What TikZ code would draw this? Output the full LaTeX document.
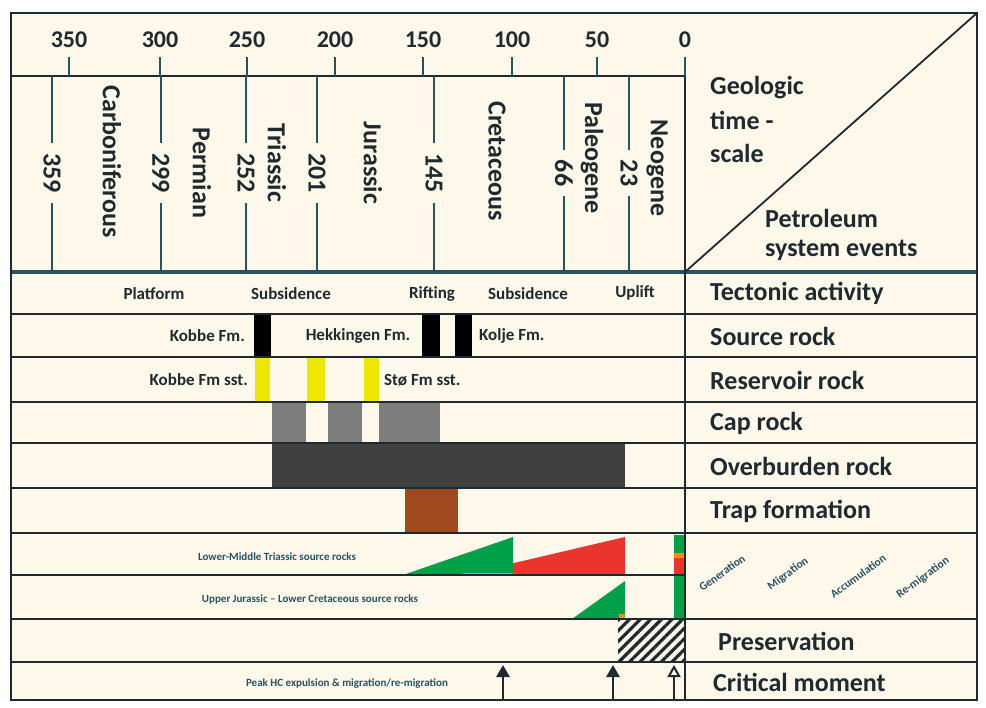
\documentclass[tikz,border=0pt]{standalone}
\usepackage{fontspec}
\setmainfont{Carlito}
\usetikzlibrary{patterns.meta,arrows.meta}
\definecolor{bgc}{RGB}{253,248,234}
\definecolor{ink}{RGB}{30,42,48}
\definecolor{tealc}{RGB}{40,82,96}
\definecolor{greenc}{RGB}{0,160,72}
\definecolor{redc}{RGB}{236,52,46}
\definecolor{yellowc}{RGB}{236,230,0}
\definecolor{capgray}{RGB}{125,125,125}
\definecolor{overgray}{RGB}{64,64,64}
\definecolor{trapc}{RGB}{160,72,30}
\definecolor{orangec}{RGB}{242,140,30}
\newcommand\fsz[1]{\fontsize{#1}{#1}\selectfont\bfseries}
\tikzset{
  rowline/.style={draw=ink,line width=2.2pt},
  perline/.style={draw=tealc,line width=2.4pt},
  ticklab/.style={text=ink,font=\fsz{24},inner sep=0pt},
  numlab/.style={text=ink,font=\fsz{26},rotate=-90,fill=bgc,inner xsep=10pt,inner ysep=1pt},
  perlab/.style={text=ink,font=\fsz{26},rotate=-90,inner sep=0pt},
  smalllab/.style={text=ink,font=\fsz{17},inner sep=0pt},
  tinylab/.style={text=tealc,font=\fsz{11},inner sep=0pt},
  diaglab/.style={text=tealc,font=\fsz{11.5},inner sep=0pt,rotate=36},
  rightlab/.style={text=ink,font=\fsz{26},inner sep=0pt,anchor=west},
  uparrow/.style={draw=ink,line width=2.8pt,-{Triangle[length=12pt,width=13pt]}},
  uparrowopen/.style={draw=ink,line width=2.8pt,-{Triangle[open,length=12pt,width=13pt,line width=2pt]}}
}
\begin{document}
\begin{tikzpicture}[x=1pt,y=-1pt]
\useasboundingbox (0,0) rectangle (986,708);
\fill[white] (0,0) rectangle (986,708);
\fill[bgc] (11,13) rectangle (977,700);

% ---- coloured blocks ----
% source rock
\fill[black] (254,314) rectangle (271,357);
\fill[black] (422,314) rectangle (440,357);
\fill[black] (455,314) rectangle (472,357);
% reservoir rock
\fill[yellowc] (255,357) rectangle (270,402);
\fill[yellowc] (307,357) rectangle (325,402);
\fill[yellowc] (364,357) rectangle (379,402);
% cap rock
\fill[capgray] (272,402) rectangle (306,443);
\fill[capgray] (328,402) rectangle (362,443);
\fill[capgray] (379,402) rectangle (440,443);
% overburden
\fill[overgray] (272,443) rectangle (625,488);
% trap
\fill[trapc] (405,488) rectangle (458,533);
% generation / migration
\fill[redc] (463,575) -- (625,537) -- (625,575) -- cycle;
\fill[greenc] (403,575) -- (513,537) -- (513,575) -- cycle;
\draw[orangec,line width=1.5pt] (463,573.5) -- (513,573.5);
\fill[greenc] (674,535) rectangle (685,619);
\fill[orangec] (674,553) rectangle (685,558);
\fill[redc] (674,558) rectangle (685,574);
\fill[greenc] (572,619) -- (625,581) -- (625,619) -- cycle;
\fill[orangec] (619,614) rectangle (625,619);
% preservation hatch
\path[pattern={Lines[angle=45,distance=7.5pt,line width=3.2pt]},pattern color=ink] (618,619) rectangle (685,662);

% ---- time axis ----
\draw[rowline] (11,76) -- (685,76);
\foreach \x/\t in {69/350,160/300,247/250,335/200,423/150,512/100,597/50,685/0}{
  \draw[perline,line width=2.2pt] (\x,57) -- (\x,76);
  \node[ticklab] (t\t) at (\x,40) {\t};
}
\foreach \x/\t in {52/359,161/299,246/252,317/201,434/145,564/66,629/23}{
  \draw[perline] (\x,76) -- (\x,272);
  \node[numlab] (n\t) at (\x,173) {\t};
}
\node[perlab] (pCarb) at (112,162) {Carboniferous};
\node[perlab] (pPerm) at (202,173) {Permian};
\node[perlab] (pTri) at (277,163) {Triassic};
\node[perlab] (pJur) at (373,163) {Jurassic};
\node[perlab] (pCret) at (497,161) {Cretaceous};
\node[perlab] (pPal) at (592,158) {Paleogene};
\node[perlab] (pNeo) at (657,168) {Neogene};

% ---- table lines ----
\foreach \y in {314,357,402,443,488,533,619,662}{
  \draw[rowline] (11,\y) -- (977,\y);
}
\draw[rowline] (11,575) -- (685,575);
\draw[draw=tealc,line width=3.4pt] (11,272) -- (977,272);
\draw[perline,draw=ink,line width=2.4pt] (685,76) -- (685,700);
\draw[draw=ink,line width=1.8pt] (685,272) -- (977,13);
\draw[draw=ink,line width=2.6pt] (11,13) rectangle (977,700);

% ---- row texts ----
\node[smalllab] (tPlat) at (154,294) {Platform};
\node[smalllab] (tSub1) at (291,294) {Subsidence};
\node[smalllab] (tRift) at (432,294) {Rifting};
\node[smalllab] (tSub2) at (528,294) {Subsidence};
\node[smalllab] (tUpl) at (635,293) {Uplift};
\node[smalllab,anchor=east] (sKob) at (245,336) {Kobbe Fm.};
\node[smalllab] (sHek) at (358,336) {Hekkingen Fm.};
\node[smalllab,anchor=west] (sKol) at (479,336) {Kolje Fm.};
\node[smalllab,anchor=east] (rKob) at (248,380) {Kobbe Fm sst.};
\node[smalllab,anchor=west] (rSto) at (384,380) {Stø Fm sst.};
\node[tinylab] (lTri) at (277,557) {Lower-Middle Triassic source rocks};
\node[tinylab] (lJur) at (310,600) {Upper Jurassic – Lower Cretaceous source rocks};
\node[tinylab] (lPeak) at (347,684) {Peak HC expulsion \& migration/re-migration};

% ---- critical moment arrows ----
\coordinate (a1b) at (503,699); \coordinate (a1t) at (503,665);
\coordinate (a2b) at (613,699); \coordinate (a2t) at (613,665);
\coordinate (a3b) at (674,699); \coordinate (a3t) at (674,665);
\draw[uparrow] (a1b) -- (a1t);
\draw[uparrow] (a2b) -- (a2t);
\draw[uparrowopen] (a3b) -- (a3t);

% ---- right column ----
\node[rightlab] (hGeo) at (710,88) {Geologic};
\node[rightlab] (hTime) at (710,120) {time -};
\node[rightlab] (hScale) at (710,153) {scale};
\node[rightlab] (hPet) at (765,218) {Petroleum};
\node[rightlab] (hSys) at (765,250) {system events};
\node[rightlab] (rTec) at (710,293) {Tectonic activity};
\node[rightlab] (rSrc) at (710,336) {Source rock};
\node[rightlab] (rRes) at (710,380) {Reservoir rock};
\node[rightlab] (rCap) at (710,423) {Cap rock};
\node[rightlab] (rOver) at (710,466) {Overburden rock};
\node[rightlab] (rTrap) at (710,511) {Trap formation};
\node[rightlab] (rPres) at (718,641) {Preservation};
\node[rightlab] (rCrit) at (713,682) {Critical moment};
\node[diaglab] (dGen) at (722,573) {Generation};
\node[diaglab] (dMig) at (788,574) {Migration};
\node[diaglab] (dAcc) at (858,576) {Accumulation};
\node[diaglab] (dRem) at (923,578) {Re-migration};
\end{tikzpicture}
\end{document}
